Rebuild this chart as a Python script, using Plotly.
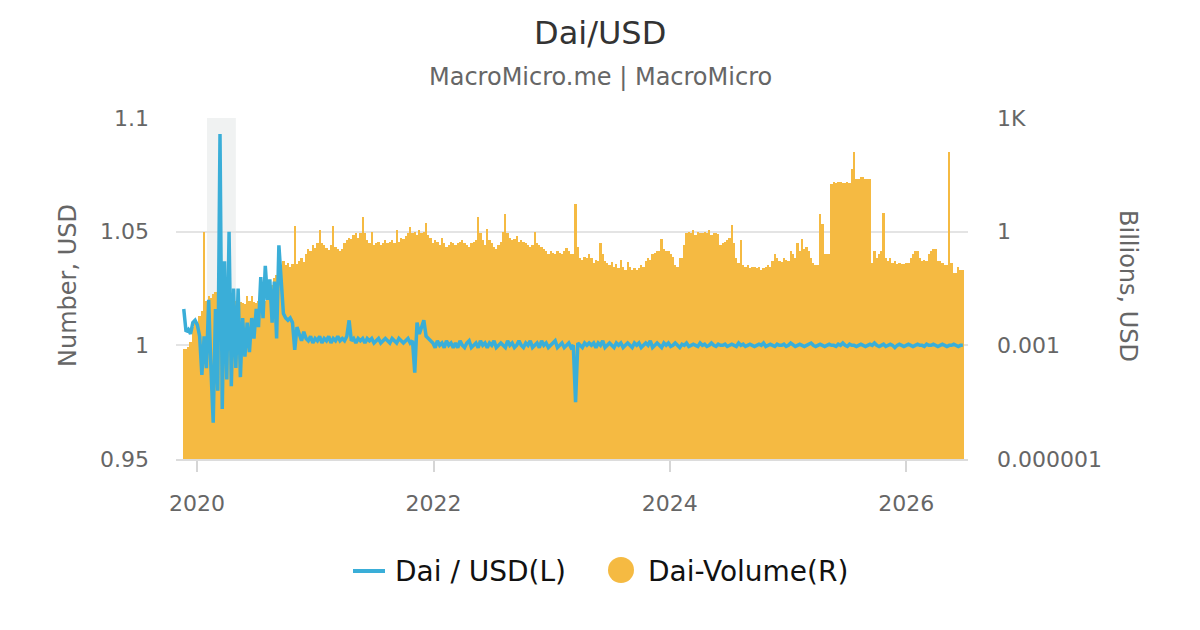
import pandas as pd
import plotly.graph_objects as go

# ---- data (weekly) ----
start_date = "2019-11-21"

volume_bn = [
    0.0008, 0.0008, 0.0009, 0.0012, 0.003, 0.004, 0.004, 0.006, 0.008, 1.0,
    0.015, 0.02, 0.018, 0.022, 0.025, 0.028, 0.03, 0.025, 0.022, 0.02,
    0.025, 0.024, 0.02, 0.015, 0.012, 0.014, 0.013, 0.012, 0.02, 0.015,
    0.02, 0.014, 0.013, 0.015, 0.016, 0.014, 0.015, 0.02, 0.025, 0.04,
    0.06, 0.07, 0.08, 0.1, 0.17, 0.13, 0.15, 0.12, 0.14, 1.4,
    0.14, 0.17, 0.2, 0.16, 0.25, 0.35, 0.3, 0.45, 0.38, 0.5,
    1.1, 0.5, 0.45, 0.38, 0.33, 0.45, 1.4, 0.4, 0.35, 0.3,
    0.35, 0.5, 0.6, 0.7, 0.65, 0.8, 0.9, 0.7, 0.9, 2.5,
    0.9, 0.6, 0.5, 1.0, 0.45, 0.5, 0.55, 0.45, 0.5, 0.6,
    0.5, 0.55, 0.6, 0.5, 1.1, 0.55, 0.7, 0.65, 0.75, 0.9,
    1.3, 0.9, 1.0, 0.8, 1.1, 0.9, 1.0, 1.7, 0.8, 0.7,
    0.5, 0.6, 0.55, 0.45, 0.7, 0.5, 0.4, 0.45, 0.55, 0.5,
    0.45, 0.5, 0.55, 0.6, 0.5, 0.45, 0.4, 0.5, 0.55, 0.6,
    2.5, 0.9, 0.6, 0.45, 1.2, 0.6, 0.5, 0.4, 0.35, 0.45,
    0.55, 1.0, 3.0, 0.9, 0.7, 0.6, 0.65, 0.75, 0.55, 0.6,
    0.55, 0.5, 0.45, 0.4, 0.45, 1.0, 0.5, 0.45, 0.4, 0.35,
    0.3, 0.25, 0.3, 0.28, 0.25, 0.3, 0.28, 0.25, 0.3, 0.38,
    0.3, 0.25, 0.25, 5.3, 0.4, 0.2, 0.18, 0.22, 0.2, 0.25,
    0.2, 0.15, 0.18, 0.17, 0.5, 0.25, 0.17, 0.15, 0.13, 0.16,
    0.12, 0.14, 0.11, 0.18, 0.12, 0.1, 0.16, 0.12, 0.1, 0.11,
    0.1, 0.11, 0.13, 0.12, 0.17, 0.2, 0.18, 0.25, 0.28, 0.3,
    0.3, 0.65, 0.35, 0.3, 0.3, 0.25, 0.22, 0.13, 0.12, 0.2,
    0.2, 0.45, 0.9, 1.0, 0.9, 1.1, 0.8, 1.0, 0.9, 0.9,
    1.0, 0.9, 1.1, 0.8, 0.9, 0.9, 0.85, 0.45, 0.5, 0.55,
    0.6, 0.7, 1.5, 0.5, 0.2, 0.15, 0.6, 0.13, 0.12, 0.13,
    0.11, 0.12, 0.12, 0.11, 0.12, 0.1, 0.11, 0.12, 0.13, 0.12,
    0.17, 0.25, 0.2, 0.17, 0.16, 0.2, 0.18, 0.17, 0.3, 0.25,
    0.2, 0.5, 0.3, 0.65, 0.35, 0.4, 0.3, 0.2, 0.15, 0.13,
    0.13, 2.9, 1.6, 0.25, 0.25, 0.25, 18, 20, 19, 20,
    20, 19, 19, 20, 19, 46, 123, 25, 25, 27,
    27, 25, 24, 24, 0.15, 0.3, 0.2, 0.25, 0.3, 3.2,
    0.2, 0.17, 0.2, 0.15, 0.17, 0.14, 0.15, 0.14, 0.14, 0.15,
    0.15, 0.2, 0.25, 0.3, 0.3, 0.2, 0.17, 0.18, 0.17, 0.25,
    0.3, 0.35, 0.35, 0.17, 0.17, 0.15, 0.13, 0.13, 123, 0.15,
    0.08, 0.08, 0.12, 0.1, 0.1,
]

dai_usd = [
    1.016, 1.006, 1.007, 1.005, 1.010, 1.011, 1.009, 1.004, 0.987, 1.004,
    0.990, 1.020, 0.990, 0.966, 1.016, 0.980, 1.093, 0.972, 1.037, 0.985,
    1.050, 0.982, 1.025, 0.990, 1.025, 0.986, 1.012, 0.995, 1.010, 0.997,
    1.012, 1.003, 1.016, 1.008, 1.030, 1.012, 1.035, 1.020, 1.029, 1.010,
    1.028, 1.003, 1.044, 1.030, 1.014, 1.012, 1.011, 1.012, 1.010, 0.998,
    1.008, 1.005, 1.002, 1.006, 1.003, 1.002, 1.004, 1.001, 1.003, 1.002,
    1.004, 1.001, 1.003, 1.002, 1.004, 1.001, 1.003, 1.002, 1.004, 1.002,
    1.003, 1.002, 1.004, 1.011, 1.002, 1.003, 1.001, 1.003, 1.002, 1.003,
    1.001, 1.003, 1.002, 1.003, 1.001, 1.002, 1.003, 1.001, 1.002, 1.003,
    1.002, 1.001, 1.003, 1.002, 1.001, 1.003, 1.002, 1.001, 1.002, 1.003,
    1.001, 1.002, 0.988, 1.010, 1.005, 1.008, 1.011, 1.004, 1.003, 1.002,
    1.001, 0.999, 1.002, 1.000, 1.001, 0.999, 1.002, 1.000, 1.001, 0.999,
    1.001, 0.999, 1.002, 1.000, 0.999, 1.001, 1.002, 0.999, 1.000, 1.001,
    0.999, 1.002, 1.000, 1.001, 0.999, 1.001, 1.000, 1.002, 0.999, 1.000,
    1.001, 1.000, 0.999, 1.002, 1.000, 1.001, 0.999, 1.000, 1.002, 1.000,
    0.999, 1.001, 1.000, 1.002, 0.999, 1.000, 1.001, 0.999, 1.002, 1.000,
    1.001, 0.999, 1.000, 1.001, 1.002, 0.999, 1.000, 1.001, 0.999, 1.000,
    1.001, 0.999, 1.000, 0.975, 1.001, 1.000, 0.999, 1.001, 1.000, 1.001,
    1.000, 1.001, 0.999, 1.001, 1.000, 1.002, 0.999, 1.000, 1.001, 1.000,
    0.999, 1.001, 1.000, 1.001, 0.999, 1.000, 1.001, 1.000, 0.999, 1.001,
    1.000, 1.001, 0.999, 1.000, 1.001, 1.000, 1.002, 0.999, 1.000, 1.001,
    1.000, 0.999, 1.001, 1.000, 1.001, 0.9995, 1.000, 1.001, 1.000, 0.999,
    1.0005, 1.000, 1.001, 0.9995, 1.000, 1.0005, 1.000, 0.9995, 1.001, 1.000,
    1.0005, 0.9995, 1.000, 1.001, 1.000, 0.9995, 1.0005, 1.000, 1.000, 1.0005,
    0.9995, 1.000, 1.0005, 1.000, 0.9995, 1.001, 1.000, 1.0005, 0.9995, 1.000,
    1.0005, 1.000, 0.9995, 1.000, 1.0005, 1.000, 1.001, 0.9995, 1.000, 1.0005,
    1.000, 0.9995, 1.0005, 1.000, 1.000, 1.0005, 0.9995, 1.000, 1.001, 1.000,
    0.9995, 1.000, 1.0005, 1.000, 0.9995, 1.000, 1.0005, 1.001, 1.000, 0.9995,
    1.000, 1.0005, 1.000, 0.9995, 1.000, 1.0005, 1.000, 1.000, 0.9995, 1.0005,
    1.000, 1.001, 1.000, 0.9995, 1.0005, 1.000, 1.000, 0.9995, 1.000, 1.0005,
    1.000, 0.9995, 1.000, 1.0005, 1.000, 1.001, 1.000, 0.9995, 1.000, 1.0005,
    0.9995, 1.000, 1.0005, 1.000, 0.999, 1.000, 1.0005, 1.000, 0.9995, 1.000,
    1.0005, 1.000, 0.9995, 1.000, 1.0005, 1.000, 1.000, 0.9995, 1.0005, 1.000,
    1.000, 1.0005, 1.000, 0.9995, 1.000, 1.0005, 1.000, 0.9995, 1.000, 1.000,
    1.0005, 1.000, 0.9995, 1.000, 1.000,
]

dates = pd.date_range(start_date, periods=len(volume_bn), freq="7D")

left_ticks = [0.95, 1.0, 1.05, 1.1]
left_ticktext = ["0.95", "1", "1.05", "1.1"]
right_ticks = [1e-6, 1e-3, 1, 1000]
right_ticktext = ["0.000001", "0.001", "1", "1K"]
x_ticks = ["2020-01-01", "2022-01-01", "2024-01-01", "2026-01-01"]

recession = ("2020-02-01", "2020-04-30")

BLUE = "#3AAED8"
ORANGE = "#F5BA42"
FONT = "DejaVu Sans"

fig = go.Figure()

fig.add_trace(go.Bar(
    x=dates, y=volume_bn, base=[1e-9] * len(volume_bn),
    marker=dict(color=ORANGE, line=dict(width=0)),
    name="Dai-Volume(R)", yaxis="y", showlegend=False,
))
fig.add_trace(go.Scatter(
    x=dates[:len(dai_usd)], y=dai_usd, mode="lines",
    line=dict(color=BLUE, width=3.5),
    name="Dai / USD(L)", yaxis="y2", showlegend=False,
))

# plot area in pixels: x 176..968, y 118..459
L, R, T, B = 176, 968, 118, 459
def px(x):
    return (x - L) / (R - L)
def py(y):
    return (B - y) / (B - T)

fig.update_layout(
    width=1200, height=630,
    margin=dict(l=L, r=1200 - R, t=T, b=630 - B, pad=0),
    paper_bgcolor="white", plot_bgcolor="white",
    font=dict(family=FONT, color="#666666"),
    bargap=0, showlegend=False,
    xaxis=dict(
        type="date", range=["2019-10-28", "2026-07-11"],
        tickvals=x_ticks, tickformat="%Y",
        tickfont=dict(size=22, color="#666666"),
        ticks="outside", ticklen=11, tickwidth=2, tickcolor="#d6d6d6",
        ticklabelstandoff=13,
        showline=True, linecolor="#dcdcdc", linewidth=2,
        showgrid=False, zeroline=False,
    ),
    yaxis=dict(
        type="log", range=[-6, 3], side="right",
        tickvals=right_ticks, ticktext=right_ticktext,
        tickfont=dict(size=22, color="#666666"),
        ticklabelstandoff=28,
        showgrid=True, gridcolor="#e4e4e4", gridwidth=2,
        zeroline=False, showline=False,
    ),
    yaxis2=dict(
        range=[0.95, 1.1], side="left", overlaying="y",
        tickvals=left_ticks, ticktext=left_ticktext,
        tickfont=dict(size=22, color="#666666"),
        ticklabelstandoff=26,
        showgrid=False, zeroline=False, showline=False,
    ),
    shapes=[
        dict(type="rect", xref="x", yref="paper",
             x0=recession[0], x1=recession[1], y0=0, y1=1,
             fillcolor="#f0f2f2", line=dict(width=0), layer="below"),
        # legend symbols
        dict(type="line", xref="paper", yref="paper",
             x0=px(353), x1=px(385), y0=py(571), y1=py(571),
             line=dict(color=BLUE, width=4)),
        dict(type="circle", xref="paper", yref="paper",
             x0=px(608), x1=px(634), y0=py(583), y1=py(557),
             fillcolor=ORANGE, line=dict(width=0)),
    ],
    annotations=[
        dict(text="Dai/USD", xref="paper", yref="paper", x=px(600), y=py(33),
             showarrow=False, xanchor="center", yanchor="middle",
             font=dict(size=32, color="#333333")),
        dict(text="MacroMicro.me | MacroMicro", xref="paper", yref="paper",
             x=px(600), y=py(77), showarrow=False, xanchor="center", yanchor="middle",
             font=dict(size=24, color="#666666")),
        dict(text="Number, USD", xref="paper", yref="paper", x=px(68), y=py(286),
             showarrow=False, textangle=-90, xanchor="center", yanchor="middle",
             font=dict(size=24, color="#666666")),
        dict(text="Billions, USD", xref="paper", yref="paper", x=px(1128), y=py(286),
             showarrow=False, textangle=90, xanchor="center", yanchor="middle",
             font=dict(size=24, color="#666666")),
        dict(text="Dai / USD(L)", xref="paper", yref="paper", x=px(393), y=py(571),
             showarrow=False, xanchor="left", yanchor="middle",
             font=dict(size=28, color="#111111")),
        dict(text="Dai-Volume(R)", xref="paper", yref="paper", x=px(646), y=py(571),
             showarrow=False, xanchor="left", yanchor="middle",
             font=dict(size=28, color="#111111")),
    ],
)

fig.write_html("out.html")
